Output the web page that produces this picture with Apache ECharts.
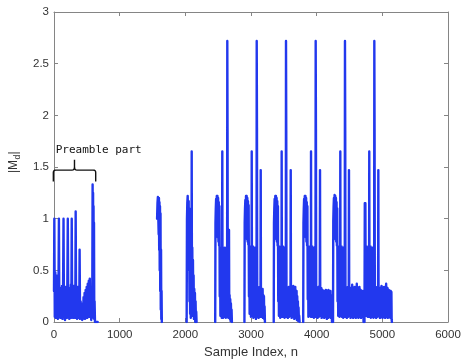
<!DOCTYPE html>
<html><head><meta charset="utf-8">
<script src="https://cdn.jsdelivr.net/npm/echarts@6/dist/echarts.min.js"></script>
<style>html,body{margin:0;padding:0;background:#fff}#c{width:474px;height:364px}</style>
</head><body><div id="c"></div>
<script>
// ---- tick labels ----
const xTickLabels = ['0','1000','2000','3000','4000','5000','6000'];
const yTickLabels = ['0','0.5','1','1.5','2','2.5','3'];
const xAxisTitle = 'Sample Index, n';
const annotationText = 'Preamble part';

// ---- |M_d| samples, [sample index n, value] ----
const preamble = [[0,0.3],[5,1.0],[12,0.05],[20,0.48],[28,0.04],[36,0.45],[44,0.06],[52,0.33],[60,0.03],[68,0.3],[75,1.0],[82,0.05],[90,0.33],[98,0.04],[106,0.3],[114,0.06],[122,0.35],[130,0.03],[138,0.32],[145,1.0],[152,0.05],[160,0.3],[168,0.02],[176,0.34],[184,0.05],[192,0.31],[200,0.04],[210,1.0],[218,0.06],[226,0.33],[234,0.03],[242,0.3],[250,0.05],[258,0.36],[264,0.04],[270,1.0],[277,0.05],[285,0.32],[293,0.04],[301,0.35],[309,0.06],[317,0.3],[324,0.04],[330,1.07],[337,0.05],[345,0.3],[353,0.03],[361,0.34],[369,0.05],[377,0.31],[384,0.04],[390,0.7],[397,0.03],[405,0.2],[413,0.04],[421,0.18],[429,0.02],[436,0.14],[442,0.03],[450,0.24],[458,0.05],[466,0.28],[474,0.03],[482,0.31],[490,0.06],[498,0.34],[506,0.04],[514,0.37],[522,0.07],[530,0.4],[538,0.05],[545,0.42],[552,0.08],[560,0.1],[567,0.02],[575,0.08],[582,0.04],[588,1.33],[592,0.3],[595,1.25],[599,0.2],[602,1.12],[606,0.1],[609,0.96],[613,0.03],[618,0.2],[624,0.0],[640,0.0],[665,0.0]];

const burst1 = [[1570,1.0],[1576,1.15],[1582,1.21],[1588,1.22],[1594,0.85],[1598,1.2],[1602,0.7],[1606,1.16],[1610,0.5],[1614,1.12],[1618,0.3],[1622,1.05],[1626,0.12],[1630,0.7],[1634,0.03],[1638,0.3],[1642,0.0],[1650,0.0]];

const burst2 = [[2020,0.0],[2025,1.0],[2030,1.15],[2036,1.22],[2042,1.21],[2047,0.8],[2051,1.17],[2055,0.5],[2059,1.1],[2063,0.2],[2068,0.72],[2073,0.08],[2078,0.72],[2083,0.04],[2088,0.7],[2093,0.1],[2097,1.65],[2101,0.15],[2106,0.72],[2111,0.06],[2116,0.6],[2121,0.1],[2126,0.45],[2131,0.03],[2136,0.32],[2141,0.05],[2146,0.28],[2151,0.0],[2156,0.2],[2161,0.02],[2166,0.1],[2171,0.0]];

const burst3 = [[2455,0.0],[2459,0.96],[2464,1.1],[2469,1.19],[2474,0.9],[2479,1.22],[2484,0.86],[2489,1.22],[2494,0.82],[2499,1.2],[2504,0.78],[2509,1.16],[2514,0.74],[2519,1.12],[2524,0.25],[2529,0.72],[2534,0.06],[2539,0.72],[2544,0.12],[2549,0.71],[2554,0.04],[2559,0.6],[2563,1.65],[2567,0.08],[2572,0.72],[2577,0.04],[2582,0.72],[2587,0.1],[2592,0.7],[2597,0.05],[2602,0.72],[2607,0.12],[2612,0.71],[2617,0.04],[2622,0.72],[2627,0.1],[2632,0.6],[2636,0.05],[2639,2.72],[2643,1.85],[2647,0.06],[2652,0.3],[2657,0.04],[2661,0.28],[2665,0.89],[2669,0.05],[2674,0.26],[2679,0.03],[2684,0.22],[2689,0.01],[2694,0.18],[2699,0.02],[2704,0.12],[2709,0.0],[2715,0.0]];

const burst4 = [[2900,0.0],[2904,0.96],[2909,1.1],[2914,1.18],[2919,0.92],[2924,1.22],[2929,0.85],[2934,1.22],[2939,0.8],[2944,1.2],[2949,0.78],[2954,1.17],[2959,0.75],[2964,1.13],[2969,0.25],[2974,0.72],[2979,0.08],[2984,0.73],[2989,0.12],[2994,0.72],[2999,0.05],[3004,0.7],[3008,0.1],[3011,1.65],[3015,0.06],[3020,0.72],[3025,0.1],[3030,0.73],[3035,0.04],[3040,0.72],[3045,0.12],[3050,0.7],[3055,0.05],[3060,0.72],[3065,0.1],[3070,0.72],[3075,0.03],[3080,0.65],[3084,0.05],[3087,2.72],[3091,1.88],[3095,0.05],[3100,0.3],[3105,0.08],[3110,0.32],[3115,0.04],[3120,0.28],[3125,0.1],[3130,0.34],[3135,0.05],[3140,0.3],[3144,0.06],[3148,1.47],[3152,0.08],[3157,0.3],[3162,0.05],[3167,0.28],[3172,0.1],[3177,0.32],[3182,0.04],[3187,0.26],[3192,0.08],[3197,0.25],[3202,0.03],[3207,0.15],[3212,0.0],[3218,0.0]];

const burst5 = [[3346,0.0],[3350,0.96],[3355,1.1],[3360,1.19],[3365,0.9],[3370,1.22],[3375,0.86],[3380,1.22],[3385,0.8],[3390,1.2],[3395,0.78],[3400,1.17],[3405,0.74],[3410,1.12],[3415,0.2],[3420,0.72],[3425,0.06],[3430,0.73],[3435,0.12],[3440,0.72],[3445,0.04],[3450,0.71],[3455,0.1],[3460,0.65],[3464,0.05],[3467,1.65],[3471,0.08],[3476,0.72],[3481,0.12],[3486,0.73],[3491,0.05],[3496,0.72],[3501,0.1],[3506,0.72],[3511,0.04],[3516,0.7],[3521,0.12],[3526,0.6],[3530,0.05],[3533,2.72],[3537,1.85],[3541,0.06],[3546,0.3],[3551,0.1],[3556,0.33],[3561,0.04],[3566,0.3],[3571,0.08],[3576,0.34],[3581,0.05],[3586,0.29],[3591,0.1],[3596,0.32],[3601,0.06],[3605,1.47],[3609,0.07],[3614,0.32],[3619,0.04],[3624,0.34],[3629,0.1],[3634,0.3],[3639,0.05],[3644,0.35],[3649,0.08],[3654,0.28],[3659,0.03],[3664,0.31],[3669,0.09],[3674,0.34],[3679,0.04],[3684,0.27],[3689,0.1],[3694,0.3],[3699,0.02],[3704,0.25],[3709,0.06],[3714,0.2],[3719,0.01],[3724,0.14],[3729,0.03],[3734,0.06],[3740,0.0]];

const burst6 = [[3795,0.0],[3799,0.96],[3804,1.1],[3809,1.19],[3814,0.9],[3819,1.22],[3824,0.85],[3829,1.22],[3834,0.82],[3839,1.2],[3844,0.78],[3849,1.16],[3854,0.74],[3859,1.12],[3864,0.22],[3869,0.72],[3874,0.05],[3879,0.73],[3884,0.1],[3889,0.72],[3894,0.06],[3899,0.72],[3904,0.12],[3909,0.62],[3912,0.05],[3914,1.65],[3918,0.07],[3923,0.72],[3928,0.1],[3933,0.73],[3938,0.05],[3943,0.72],[3948,0.12],[3953,0.71],[3958,0.04],[3963,0.72],[3968,0.1],[3973,0.7],[3978,0.05],[3982,0.5],[3985,2.72],[3989,1.86],[3993,0.05],[3998,0.3],[4003,0.1],[4008,0.33],[4013,0.04],[4018,0.3],[4023,0.08],[4028,0.34],[4033,0.05],[4038,0.3],[4043,0.1],[4047,0.28],[4051,1.47],[4055,0.06],[4060,0.3],[4065,0.1],[4070,0.33],[4075,0.04],[4080,0.28],[4085,0.09],[4090,0.31],[4095,0.05],[4100,0.3],[4105,0.12],[4110,0.27],[4115,0.04],[4120,0.3],[4125,0.1],[4130,0.29],[4135,0.05],[4140,0.31],[4145,0.08],[4150,0.28],[4155,0.03],[4160,0.3],[4165,0.1],[4170,0.27],[4175,0.04],[4180,0.31],[4185,0.09],[4190,0.3],[4195,0.05],[4200,0.28],[4205,0.1],[4210,0.3],[4215,0.04],[4220,0.26],[4225,0.06],[4229,0.2],[4233,0.0],[4240,0.0]];

const burst7 = [[4249,0.0],[4253,0.98],[4258,1.12],[4263,1.2],[4268,0.9],[4273,1.23],[4278,0.86],[4283,1.22],[4288,0.8],[4293,1.2],[4298,0.78],[4303,1.16],[4308,0.74],[4313,1.1],[4318,0.2],[4323,0.72],[4328,0.06],[4333,0.73],[4338,0.12],[4343,0.72],[4348,0.05],[4353,0.7],[4357,0.1],[4360,1.65],[4364,0.06],[4369,0.72],[4374,0.1],[4379,0.73],[4384,0.05],[4389,0.72],[4394,0.12],[4399,0.71],[4404,0.04],[4409,0.72],[4414,0.1],[4419,0.7],[4424,0.05],[4428,0.55],[4431,2.72],[4435,1.85],[4439,0.05],[4444,0.3],[4449,0.1],[4454,0.33],[4459,0.04],[4464,0.3],[4469,0.08],[4474,0.34],[4479,0.05],[4484,0.3],[4488,0.1],[4492,1.47],[4496,0.06],[4501,0.32],[4506,0.1],[4511,0.3],[4516,0.04],[4521,0.33],[4526,0.09],[4531,0.3],[4536,0.05],[4541,0.36],[4546,0.11],[4551,0.3],[4556,0.04],[4561,0.33],[4566,0.1],[4571,0.29],[4576,0.05],[4581,0.34],[4586,0.09],[4591,0.3],[4596,0.04],[4601,0.32],[4606,0.1],[4611,0.37],[4616,0.05],[4621,0.3],[4626,0.12],[4631,0.33],[4636,0.04],[4641,0.3],[4646,0.1],[4651,0.34],[4656,0.05],[4661,0.28],[4666,0.09],[4671,0.31],[4676,0.04],[4681,0.3],[4686,0.1],[4691,0.27],[4696,0.05],[4701,0.3],[4706,0.1],[4710,0.22],[4714,0.0],[4720,0.0]];

const burst8 = [[4728,0.0],[4733,1.15],[4738,0.6],[4742,1.15],[4747,0.2],[4752,0.72],[4757,0.06],[4762,0.73],[4767,0.1],[4772,0.72],[4777,0.05],[4782,0.72],[4787,0.12],[4792,0.7],[4797,0.05],[4801,1.65],[4805,0.08],[4810,0.72],[4815,0.1],[4820,0.73],[4825,0.04],[4830,0.72],[4835,0.12],[4840,0.71],[4845,0.05],[4850,0.72],[4855,0.1],[4860,0.7],[4865,0.04],[4870,0.72],[4875,0.1],[4878,2.72],[4882,1.86],[4886,0.05],[4891,0.3],[4896,0.1],[4901,0.33],[4906,0.04],[4911,0.3],[4916,0.09],[4921,0.34],[4926,0.05],[4931,0.3],[4935,0.1],[4939,1.47],[4943,0.06],[4948,0.32],[4953,0.1],[4958,0.3],[4963,0.04],[4968,0.33],[4973,0.09],[4978,0.3],[4983,0.05],[4988,0.35],[4993,0.11],[4998,0.3],[5003,0.04],[5008,0.33],[5013,0.1],[5018,0.29],[5023,0.05],[5028,0.34],[5033,0.09],[5038,0.3],[5043,0.04],[5048,0.32],[5053,0.1],[5058,0.37],[5063,0.05],[5068,0.3],[5073,0.12],[5078,0.33],[5083,0.04],[5088,0.3],[5093,0.1],[5098,0.31],[5103,0.05],[5108,0.28],[5113,0.09],[5118,0.3],[5123,0.04],[5128,0.3],[5133,0.1],[5138,0.29],[5142,0.02],[5146,0.0]];

// annotation anchor (data coords)
const braceN = [-10, 312, 635];        // left end, tip, right end (sample index)
const braceY = [1.36, 1.47, 1.57];     // end bottom, bar, tip
const labelAnchor = [25, 1.66];

// ---- build series data (gaps between segments) ----
const segments = [preamble, burst1, burst2, burst3, burst4, burst5, burst6, burst7, burst8];
const lineData = [];
segments.forEach((seg, i) => {
  if (i > 0) lineData.push([seg[0][0] - 1, '-']);
  seg.forEach(p => lineData.push(p));
});

const blue = '#2238ee';
const axisColor = '#858585';
const textColor = '#333333';
const font = 'Liberation Sans, Arial, sans-serif';

const chart = echarts.init(document.getElementById('c'), null, {renderer: 'canvas'});

function axisBase(extra) {
  return Object.assign({
    type: 'value',
    axisLine: {show: true, onZero: false, lineStyle: {color: axisColor, width: 1}},
    axisTick: {show: true, inside: true, length: 4, lineStyle: {color: axisColor}},
    splitLine: {show: false}
  }, extra);
}

chart.setOption({
  animation: false,
  grid: {left: 54, right: 26, top: 12, bottom: 42},
  xAxis: [
    axisBase({min: 0, max: 6000, interval: 1000, position: 'bottom',
      axisLabel: {color: textColor, fontSize: 11.5, fontFamily: font, margin: 7,
        formatter: v => xTickLabels[Math.round(v / 1000)]},
      name: xAxisTitle, nameLocation: 'middle', nameGap: 22,
      nameTextStyle: {color: textColor, fontSize: 13, fontFamily: font}}),
    axisBase({min: 0, max: 6000, interval: 1000, position: 'top', axisLabel: {show: false}})
  ],
  yAxis: [
    axisBase({min: 0, max: 3, interval: 0.5, position: 'left',
      axisLabel: {color: textColor, fontSize: 11.5, fontFamily: font, margin: 5,
        formatter: v => yTickLabels[Math.round(v / 0.5)]}}),
    axisBase({min: 0, max: 3, interval: 0.5, position: 'right', axisLabel: {show: false}})
  ],
  series: [{
    type: 'line', xAxisIndex: 0, yAxisIndex: 0,
    data: lineData, showSymbol: false, symbol: 'none', connectNulls: false,
    lineStyle: {color: blue, width: 2.4, join: 'round', cap: 'round'},
    z: 3, silent: true
  }]
});

// ---- annotation (brace + label) and y-axis label ----
const px = (x, y) => chart.convertToPixel({gridIndex: 0}, [x, y]);
const xl = px(braceN[0], 0)[0], xm = px(braceN[1], 0)[0], xr = px(braceN[2], 0)[0];
const yEnd = px(0, braceY[0])[1], yBar = px(0, braceY[1])[1], yTip = px(0, braceY[2])[1];
const r = 2.5;
function quad(p0, c, p1, out) {
  for (let k = 1; k <= 4; k++) {
    const t = k / 4, u = 1 - t;
    out.push([u*u*p0[0] + 2*u*t*c[0] + t*t*p1[0], u*u*p0[1] + 2*u*t*c[1] + t*t*p1[1]]);
  }
}
const leftPts = [[xl, yEnd], [xl, yBar + r]];
quad([xl, yBar + r], [xl, yBar], [xl + r, yBar], leftPts);
leftPts.push([xm - r, yBar]);
quad([xm - r, yBar], [xm, yBar], [xm, yBar - r], leftPts);
leftPts.push([xm, yTip]);
const rightPts = [[xm, yBar - r]];
quad([xm, yBar - r], [xm, yBar], [xm + r, yBar], rightPts);
rightPts.push([xr - r, yBar]);
quad([xr - r, yBar], [xr, yBar], [xr, yBar + r], rightPts);
rightPts.push([xr, yEnd]);

const lab = px(labelAnchor[0], labelAnchor[1]);
const gridTop = px(0, 3)[1], gridBottom = px(0, 0)[1];
const yMid = (gridTop + gridBottom) / 2 - 5;

chart.setOption({
  graphic: [
    {type: 'polyline', shape: {points: leftPts}, style: {fill: null, stroke: '#111', lineWidth: 1.4}, z: 10},
    {type: 'polyline', shape: {points: rightPts}, style: {fill: null, stroke: '#111', lineWidth: 1.4}, z: 10},
    {type: 'text', x: lab[0], y: lab[1], style: {text: annotationText, fontSize: 11, fontFamily: 'DejaVu Sans Mono, monospace', fill: '#111', align: 'left', verticalAlign: 'middle'}, z: 10},
    {type: 'group', x: 14, y: yMid, rotation: Math.PI / 2, children: [
      {type: 'text', x: -11, y: 0, style: {text: '|M', fontSize: 12, fontFamily: font, fill: textColor, align: 'left', verticalAlign: 'middle'}},
      {type: 'text', x: 2.5, y: 4, style: {text: 'd', fontSize: 8.5, fontFamily: font, fill: textColor, align: 'left', verticalAlign: 'middle'}},
      {type: 'text', x: 7.5, y: 0, style: {text: '|', fontSize: 12, fontFamily: font, fill: textColor, align: 'left', verticalAlign: 'middle'}}
    ]}
  ]
});
</script>
</body></html>
